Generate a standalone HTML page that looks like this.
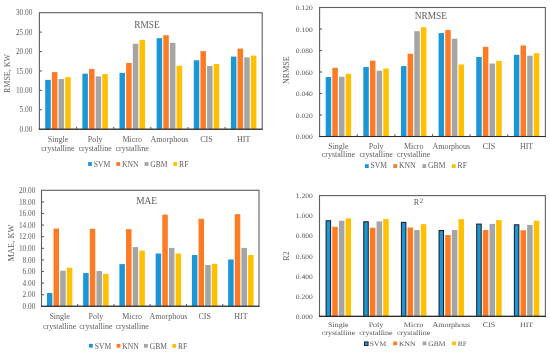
<!DOCTYPE html>
<html><head><meta charset="utf-8"><title>Model error metrics</title>
<style>
html,body{margin:0;padding:0;background:#fff;}
body{width:550px;height:354px;overflow:hidden;}
svg{display:block;}
svg text{font-family:'Liberation Serif', 'Times New Roman', serif;fill:#606060;}
svg text.gp{text-rendering:geometricPrecision;fill:#555;}
</style></head><body>
<svg width="550" height="354" viewBox="0 0 550 354">
<rect width="550" height="354" fill="#fff"/>
<g>
<rect x="45.24" y="79.88" width="5.5" height="49.32" fill="#1b96d6"/>
<rect x="51.89" y="72.11" width="5.5" height="57.08" fill="#fd7b23"/>
<rect x="58.54" y="79.1" width="5.5" height="50.09" fill="#a5a5a5"/>
<rect x="65.19" y="77.16" width="5.5" height="52.04" fill="#ffc000"/>
<rect x="82.38" y="73.67" width="5.5" height="55.53" fill="#1b96d6"/>
<rect x="89.03" y="69.01" width="5.5" height="60.19" fill="#fd7b23"/>
<rect x="95.67" y="76.39" width="5.5" height="52.81" fill="#a5a5a5"/>
<rect x="102.33" y="74.06" width="5.5" height="55.14" fill="#ffc000"/>
<rect x="119.51" y="72.89" width="5.5" height="56.31" fill="#1b96d6"/>
<rect x="126.16" y="62.99" width="5.5" height="66.21" fill="#fd7b23"/>
<rect x="132.81" y="43.77" width="5.5" height="85.43" fill="#a5a5a5"/>
<rect x="139.46" y="39.88" width="5.5" height="89.32" fill="#ffc000"/>
<rect x="156.64" y="38.14" width="5.5" height="91.06" fill="#1b96d6"/>
<rect x="163.29" y="35.22" width="5.5" height="93.98" fill="#fd7b23"/>
<rect x="169.94" y="42.8" width="5.5" height="86.4" fill="#a5a5a5"/>
<rect x="176.59" y="65.71" width="5.5" height="63.49" fill="#ffc000"/>
<rect x="193.78" y="60.27" width="5.5" height="68.93" fill="#1b96d6"/>
<rect x="200.43" y="51.14" width="5.5" height="78.05" fill="#fd7b23"/>
<rect x="207.08" y="65.9" width="5.5" height="63.3" fill="#a5a5a5"/>
<rect x="213.73" y="63.96" width="5.5" height="65.24" fill="#ffc000"/>
<rect x="230.91" y="56.58" width="5.5" height="72.62" fill="#1b96d6"/>
<rect x="237.56" y="48.62" width="5.5" height="80.58" fill="#fd7b23"/>
<rect x="244.21" y="57.36" width="5.5" height="71.84" fill="#a5a5a5"/>
<rect x="250.86" y="55.61" width="5.5" height="73.59" fill="#ffc000"/>
<rect x="39.4" y="12.7" width="222.8" height="116.5" fill="none" stroke="#5f5f5f" stroke-width="1.1"/>
<line x1="38.85" y1="129.2" x2="262.75" y2="129.2" stroke="#2b2b2b" stroke-width="1.1"/>
<line x1="39.4" y1="109.78" x2="41.9" y2="109.78" stroke="#5f5f5f" stroke-width="1.1"/>
<line x1="39.4" y1="90.37" x2="41.9" y2="90.37" stroke="#5f5f5f" stroke-width="1.1"/>
<line x1="39.4" y1="70.95" x2="41.9" y2="70.95" stroke="#5f5f5f" stroke-width="1.1"/>
<line x1="39.4" y1="51.53" x2="41.9" y2="51.53" stroke="#5f5f5f" stroke-width="1.1"/>
<line x1="39.4" y1="32.12" x2="41.9" y2="32.12" stroke="#5f5f5f" stroke-width="1.1"/>
<line x1="76.53" y1="129.2" x2="76.53" y2="126.9" stroke="#5f5f5f" stroke-width="1.1"/>
<line x1="113.67" y1="129.2" x2="113.67" y2="126.9" stroke="#5f5f5f" stroke-width="1.1"/>
<line x1="150.8" y1="129.2" x2="150.8" y2="126.9" stroke="#5f5f5f" stroke-width="1.1"/>
<line x1="187.93" y1="129.2" x2="187.93" y2="126.9" stroke="#5f5f5f" stroke-width="1.1"/>
<line x1="225.07" y1="129.2" x2="225.07" y2="126.9" stroke="#5f5f5f" stroke-width="1.1"/>
<text x="32.3" y="131.9" text-anchor="end" font-size="7.3">0.00</text>
<text x="32.3" y="112.48" text-anchor="end" font-size="7.3">5.00</text>
<text x="32.3" y="93.07" text-anchor="end" font-size="7.3">10.00</text>
<text x="32.3" y="73.65" text-anchor="end" font-size="7.3">15.00</text>
<text x="32.3" y="54.23" text-anchor="end" font-size="7.3">20.00</text>
<text x="32.3" y="34.82" text-anchor="end" font-size="7.3">25.00</text>
<text x="32.3" y="15.4" text-anchor="end" font-size="7.3">30.00</text>
<text transform="translate(9.5,73.5) rotate(-90)" text-anchor="middle" font-size="8">RMSE, KW</text>
<text x="147" y="27.5" text-anchor="middle" font-size="9.35">RMSE</text>
<text x="57.97" y="141.8" text-anchor="middle" font-size="8">Single</text>
<text x="57.97" y="150.7" text-anchor="middle" font-size="8">crystalline</text>
<text x="95.1" y="141.8" text-anchor="middle" font-size="8">Poly</text>
<text x="95.1" y="150.7" text-anchor="middle" font-size="8">crystalline</text>
<text x="132.23" y="141.8" text-anchor="middle" font-size="8">Micro</text>
<text x="132.23" y="150.7" text-anchor="middle" font-size="8">crystalline</text>
<text x="169.37" y="141.8" text-anchor="middle" font-size="8">Amorphous</text>
<text x="206.5" y="141.8" text-anchor="middle" font-size="8">CIS</text>
<text x="243.63" y="141.8" text-anchor="middle" font-size="8">HIT</text>
<rect x="88.1" y="162.1" width="3.8" height="3.8" fill="#1b96d6"/>
<text x="93.8" y="166.9" font-size="7.6">SVM</text>
<rect x="116.3" y="162.1" width="3.8" height="3.8" fill="#fd7b23"/>
<text x="122" y="166.9" font-size="7.6">KNN</text>
<rect x="144.6" y="162.1" width="3.8" height="3.8" fill="#a5a5a5"/>
<text x="150.3" y="166.9" font-size="7.6">GBM</text>
<rect x="173.4" y="162.1" width="3.8" height="3.8" fill="#ffc000"/>
<text x="179.1" y="166.9" font-size="7.6">RF</text>
</g>
<g>
<rect x="325.69" y="77.05" width="5.5" height="59.45" fill="#1b96d6"/>
<rect x="332.34" y="67.81" width="5.5" height="68.69" fill="#fd7b23"/>
<rect x="338.99" y="76.73" width="5.5" height="59.77" fill="#a5a5a5"/>
<rect x="345.64" y="73.83" width="5.5" height="62.67" fill="#ffc000"/>
<rect x="363.32" y="67.05" width="5.5" height="69.45" fill="#1b96d6"/>
<rect x="369.97" y="60.71" width="5.5" height="75.79" fill="#fd7b23"/>
<rect x="376.62" y="70.71" width="5.5" height="65.79" fill="#a5a5a5"/>
<rect x="383.27" y="68.45" width="5.5" height="68.05" fill="#ffc000"/>
<rect x="400.96" y="66.09" width="5.5" height="70.41" fill="#1b96d6"/>
<rect x="407.61" y="53.72" width="5.5" height="82.78" fill="#fd7b23"/>
<rect x="414.26" y="31.15" width="5.5" height="105.35" fill="#a5a5a5"/>
<rect x="420.91" y="27.17" width="5.5" height="109.33" fill="#ffc000"/>
<rect x="438.59" y="33.09" width="5.5" height="103.41" fill="#1b96d6"/>
<rect x="445.24" y="30.07" width="5.5" height="106.43" fill="#fd7b23"/>
<rect x="451.89" y="38.67" width="5.5" height="97.83" fill="#a5a5a5"/>
<rect x="458.54" y="64.47" width="5.5" height="72.03" fill="#ffc000"/>
<rect x="476.22" y="56.95" width="5.5" height="79.55" fill="#1b96d6"/>
<rect x="482.87" y="46.84" width="5.5" height="89.66" fill="#fd7b23"/>
<rect x="489.52" y="63.51" width="5.5" height="72.99" fill="#a5a5a5"/>
<rect x="496.17" y="60.93" width="5.5" height="75.57" fill="#ffc000"/>
<rect x="513.86" y="54.8" width="5.5" height="81.7" fill="#1b96d6"/>
<rect x="520.51" y="45.45" width="5.5" height="91.05" fill="#fd7b23"/>
<rect x="527.16" y="55.66" width="5.5" height="80.84" fill="#a5a5a5"/>
<rect x="533.81" y="53.19" width="5.5" height="83.31" fill="#ffc000"/>
<rect x="319.6" y="7.5" width="225.8" height="129" fill="none" stroke="#5f5f5f" stroke-width="1.1"/>
<line x1="319.05" y1="136.5" x2="545.95" y2="136.5" stroke="#2b2b2b" stroke-width="1.1"/>
<line x1="319.6" y1="115" x2="322.1" y2="115" stroke="#5f5f5f" stroke-width="1.1"/>
<line x1="319.6" y1="93.5" x2="322.1" y2="93.5" stroke="#5f5f5f" stroke-width="1.1"/>
<line x1="319.6" y1="72" x2="322.1" y2="72" stroke="#5f5f5f" stroke-width="1.1"/>
<line x1="319.6" y1="50.5" x2="322.1" y2="50.5" stroke="#5f5f5f" stroke-width="1.1"/>
<line x1="319.6" y1="29" x2="322.1" y2="29" stroke="#5f5f5f" stroke-width="1.1"/>
<line x1="357.23" y1="136.5" x2="357.23" y2="134.2" stroke="#5f5f5f" stroke-width="1.1"/>
<line x1="394.87" y1="136.5" x2="394.87" y2="134.2" stroke="#5f5f5f" stroke-width="1.1"/>
<line x1="432.5" y1="136.5" x2="432.5" y2="134.2" stroke="#5f5f5f" stroke-width="1.1"/>
<line x1="470.13" y1="136.5" x2="470.13" y2="134.2" stroke="#5f5f5f" stroke-width="1.1"/>
<line x1="507.77" y1="136.5" x2="507.77" y2="134.2" stroke="#5f5f5f" stroke-width="1.1"/>
<text transform="translate(312.8,139.1) scale(1,0.88)" text-anchor="end" font-size="7.6" class="gp">0.000</text>
<text transform="translate(312.8,117.6) scale(1,0.88)" text-anchor="end" font-size="7.6" class="gp">0.020</text>
<text transform="translate(312.8,96.1) scale(1,0.88)" text-anchor="end" font-size="7.6" class="gp">0.040</text>
<text transform="translate(312.8,74.6) scale(1,0.88)" text-anchor="end" font-size="7.6" class="gp">0.060</text>
<text transform="translate(312.8,53.1) scale(1,0.88)" text-anchor="end" font-size="7.6" class="gp">0.080</text>
<text transform="translate(312.8,31.6) scale(1,0.88)" text-anchor="end" font-size="7.6" class="gp">0.100</text>
<text transform="translate(312.8,10.1) scale(1,0.88)" text-anchor="end" font-size="7.6" class="gp">0.120</text>
<text transform="translate(289.2,70.2) rotate(-90)" text-anchor="middle" font-size="8">NRMSE</text>
<text x="430.9" y="19.1" text-anchor="middle" font-size="9.35">NRMSE</text>
<text x="338.42" y="148.8" text-anchor="middle" font-size="8">Single</text>
<text x="338.42" y="157.2" text-anchor="middle" font-size="8">crystalline</text>
<text x="376.05" y="148.8" text-anchor="middle" font-size="8">Poly</text>
<text x="376.05" y="157.2" text-anchor="middle" font-size="8">crystalline</text>
<text x="413.68" y="148.8" text-anchor="middle" font-size="8">Micro</text>
<text x="413.68" y="157.2" text-anchor="middle" font-size="8">crystalline</text>
<text x="451.32" y="148.8" text-anchor="middle" font-size="8">Amorphous</text>
<text x="488.95" y="148.8" text-anchor="middle" font-size="8">CIS</text>
<text x="526.58" y="148.8" text-anchor="middle" font-size="8">HIT</text>
<rect x="364.9" y="164.2" width="3.8" height="3.8" fill="#1b96d6"/>
<text x="370.6" y="168" font-size="7.6">SVM</text>
<rect x="393.3" y="164.2" width="3.8" height="3.8" fill="#fd7b23"/>
<text x="399" y="168" font-size="7.6">KNN</text>
<rect x="422.4" y="164.2" width="3.8" height="3.8" fill="#a5a5a5"/>
<text x="428.1" y="168" font-size="7.6">GBM</text>
<rect x="451.9" y="164.2" width="3.8" height="3.8" fill="#ffc000"/>
<text x="457.6" y="168" font-size="7.6">RF</text>
</g>
<g>
<rect x="46.9" y="292.96" width="5.5" height="13.34" fill="#1b96d6"/>
<rect x="53.55" y="228.58" width="5.5" height="77.72" fill="#fd7b23"/>
<rect x="60.2" y="270.69" width="5.5" height="35.61" fill="#a5a5a5"/>
<rect x="66.85" y="267.67" width="5.5" height="38.63" fill="#ffc000"/>
<rect x="83.15" y="273.07" width="5.5" height="33.23" fill="#1b96d6"/>
<rect x="89.8" y="228.81" width="5.5" height="77.49" fill="#fd7b23"/>
<rect x="96.45" y="270.98" width="5.5" height="35.32" fill="#a5a5a5"/>
<rect x="103.1" y="273.82" width="5.5" height="32.48" fill="#ffc000"/>
<rect x="119.4" y="264.13" width="5.5" height="42.17" fill="#1b96d6"/>
<rect x="126.05" y="229.16" width="5.5" height="77.14" fill="#fd7b23"/>
<rect x="132.7" y="247.14" width="5.5" height="59.16" fill="#a5a5a5"/>
<rect x="139.35" y="250.62" width="5.5" height="55.68" fill="#ffc000"/>
<rect x="155.65" y="253.52" width="5.5" height="52.78" fill="#1b96d6"/>
<rect x="162.3" y="214.66" width="5.5" height="91.64" fill="#fd7b23"/>
<rect x="168.95" y="247.89" width="5.5" height="58.41" fill="#a5a5a5"/>
<rect x="175.6" y="253.52" width="5.5" height="52.78" fill="#ffc000"/>
<rect x="191.9" y="255.03" width="5.5" height="51.27" fill="#1b96d6"/>
<rect x="198.55" y="218.78" width="5.5" height="87.52" fill="#fd7b23"/>
<rect x="205.2" y="264.95" width="5.5" height="41.35" fill="#a5a5a5"/>
<rect x="211.85" y="263.79" width="5.5" height="42.51" fill="#ffc000"/>
<rect x="228.15" y="259.44" width="5.5" height="46.86" fill="#1b96d6"/>
<rect x="234.8" y="214.2" width="5.5" height="92.1" fill="#fd7b23"/>
<rect x="241.45" y="247.89" width="5.5" height="58.41" fill="#a5a5a5"/>
<rect x="248.1" y="255.03" width="5.5" height="51.27" fill="#ffc000"/>
<rect x="41.5" y="190.3" width="217.5" height="116" fill="none" stroke="#5f5f5f" stroke-width="1.1"/>
<line x1="40.95" y1="306.3" x2="259.55" y2="306.3" stroke="#2b2b2b" stroke-width="1.1"/>
<line x1="41.5" y1="294.7" x2="44" y2="294.7" stroke="#5f5f5f" stroke-width="1.1"/>
<line x1="41.5" y1="283.1" x2="44" y2="283.1" stroke="#5f5f5f" stroke-width="1.1"/>
<line x1="41.5" y1="271.5" x2="44" y2="271.5" stroke="#5f5f5f" stroke-width="1.1"/>
<line x1="41.5" y1="259.9" x2="44" y2="259.9" stroke="#5f5f5f" stroke-width="1.1"/>
<line x1="41.5" y1="248.3" x2="44" y2="248.3" stroke="#5f5f5f" stroke-width="1.1"/>
<line x1="41.5" y1="236.7" x2="44" y2="236.7" stroke="#5f5f5f" stroke-width="1.1"/>
<line x1="41.5" y1="225.1" x2="44" y2="225.1" stroke="#5f5f5f" stroke-width="1.1"/>
<line x1="41.5" y1="213.5" x2="44" y2="213.5" stroke="#5f5f5f" stroke-width="1.1"/>
<line x1="41.5" y1="201.9" x2="44" y2="201.9" stroke="#5f5f5f" stroke-width="1.1"/>
<line x1="77.75" y1="306.3" x2="77.75" y2="304" stroke="#5f5f5f" stroke-width="1.1"/>
<line x1="114" y1="306.3" x2="114" y2="304" stroke="#5f5f5f" stroke-width="1.1"/>
<line x1="150.25" y1="306.3" x2="150.25" y2="304" stroke="#5f5f5f" stroke-width="1.1"/>
<line x1="186.5" y1="306.3" x2="186.5" y2="304" stroke="#5f5f5f" stroke-width="1.1"/>
<line x1="222.75" y1="306.3" x2="222.75" y2="304" stroke="#5f5f5f" stroke-width="1.1"/>
<text x="35.3" y="309" text-anchor="end" font-size="7.3">0.00</text>
<text x="35.3" y="297.4" text-anchor="end" font-size="7.3">2.00</text>
<text x="35.3" y="285.8" text-anchor="end" font-size="7.3">4.00</text>
<text x="35.3" y="274.2" text-anchor="end" font-size="7.3">6.00</text>
<text x="35.3" y="262.6" text-anchor="end" font-size="7.3">8.00</text>
<text x="35.3" y="251" text-anchor="end" font-size="7.3">10.00</text>
<text x="35.3" y="239.4" text-anchor="end" font-size="7.3">12.00</text>
<text x="35.3" y="227.8" text-anchor="end" font-size="7.3">14.00</text>
<text x="35.3" y="216.2" text-anchor="end" font-size="7.3">16.00</text>
<text x="35.3" y="204.6" text-anchor="end" font-size="7.3">18.00</text>
<text x="35.3" y="193" text-anchor="end" font-size="7.3">20.00</text>
<text transform="translate(13.9,243) rotate(-90)" text-anchor="middle" font-size="8.4">MAE, KW</text>
<text x="146.6" y="204.1" text-anchor="middle" font-size="9.35">MAE</text>
<text x="59.62" y="319.3" text-anchor="middle" font-size="8">Single</text>
<text x="59.62" y="328.5" text-anchor="middle" font-size="8">crystalline</text>
<text x="95.88" y="319.3" text-anchor="middle" font-size="8">Poly</text>
<text x="95.88" y="328.5" text-anchor="middle" font-size="8">crystalline</text>
<text x="132.12" y="319.3" text-anchor="middle" font-size="8">Micro</text>
<text x="132.12" y="328.5" text-anchor="middle" font-size="8">crystalline</text>
<text x="168.38" y="319.3" text-anchor="middle" font-size="8">Amorphous</text>
<text x="204.62" y="319.3" text-anchor="middle" font-size="8">CIS</text>
<text x="240.88" y="319.3" text-anchor="middle" font-size="8">HIT</text>
<rect x="89" y="343.9" width="3.8" height="3.8" fill="#1b96d6"/>
<text x="94.7" y="348.5" font-size="7.6">SVM</text>
<rect x="116.6" y="343.9" width="3.8" height="3.8" fill="#fd7b23"/>
<text x="122.3" y="348.5" font-size="7.6">KNN</text>
<rect x="144" y="343.9" width="3.8" height="3.8" fill="#a5a5a5"/>
<text x="149.7" y="348.5" font-size="7.6">GBM</text>
<rect x="172.3" y="343.9" width="3.8" height="3.8" fill="#ffc000"/>
<text x="178" y="348.5" font-size="7.6">RF</text>
</g>
<g>
<rect x="326.1" y="220.76" width="4.5" height="95.64" fill="#1b96d6" stroke="#1a1a1a" stroke-width="1"/>
<rect x="332.25" y="226.81" width="5.5" height="89.59" fill="#fd7b23"/>
<rect x="338.9" y="220.77" width="5.5" height="95.63" fill="#a5a5a5"/>
<rect x="345.55" y="218.45" width="5.5" height="97.95" fill="#ffc000"/>
<rect x="363.75" y="221.77" width="4.5" height="94.63" fill="#1b96d6" stroke="#1a1a1a" stroke-width="1"/>
<rect x="369.9" y="227.71" width="5.5" height="88.69" fill="#fd7b23"/>
<rect x="376.55" y="221.37" width="5.5" height="95.03" fill="#a5a5a5"/>
<rect x="383.2" y="219.06" width="5.5" height="97.34" fill="#ffc000"/>
<rect x="401.4" y="222.37" width="4.5" height="94.03" fill="#1b96d6" stroke="#1a1a1a" stroke-width="1"/>
<rect x="407.55" y="227.51" width="5.5" height="88.89" fill="#fd7b23"/>
<rect x="414.2" y="230.03" width="5.5" height="86.37" fill="#a5a5a5"/>
<rect x="420.85" y="224.19" width="5.5" height="92.21" fill="#ffc000"/>
<rect x="439.05" y="230.53" width="4.5" height="85.87" fill="#1b96d6" stroke="#1a1a1a" stroke-width="1"/>
<rect x="445.2" y="235.06" width="5.5" height="81.34" fill="#fd7b23"/>
<rect x="451.85" y="230.03" width="5.5" height="86.37" fill="#a5a5a5"/>
<rect x="458.5" y="219.16" width="5.5" height="97.24" fill="#ffc000"/>
<rect x="476.7" y="224.09" width="4.5" height="92.31" fill="#1b96d6" stroke="#1a1a1a" stroke-width="1"/>
<rect x="482.85" y="230.03" width="5.5" height="86.37" fill="#fd7b23"/>
<rect x="489.5" y="223.89" width="5.5" height="92.51" fill="#a5a5a5"/>
<rect x="496.15" y="219.96" width="5.5" height="96.44" fill="#ffc000"/>
<rect x="514.35" y="224.79" width="4.5" height="91.61" fill="#1b96d6" stroke="#1a1a1a" stroke-width="1"/>
<rect x="520.5" y="230.23" width="5.5" height="86.17" fill="#fd7b23"/>
<rect x="527.15" y="224.89" width="5.5" height="91.51" fill="#a5a5a5"/>
<rect x="533.8" y="220.67" width="5.5" height="95.73" fill="#ffc000"/>
<rect x="319.5" y="195.6" width="225.9" height="120.8" fill="none" stroke="#5f5f5f" stroke-width="1.1"/>
<line x1="318.95" y1="316.4" x2="545.95" y2="316.4" stroke="#2b2b2b" stroke-width="1.1"/>
<text transform="translate(312.8,318.9) scale(1,0.88)" text-anchor="end" font-size="7.6" class="gp">0.000</text>
<text transform="translate(312.8,298.77) scale(1,0.88)" text-anchor="end" font-size="7.6" class="gp">0.200</text>
<text transform="translate(312.8,278.63) scale(1,0.88)" text-anchor="end" font-size="7.6" class="gp">0.400</text>
<text transform="translate(312.8,258.5) scale(1,0.88)" text-anchor="end" font-size="7.6" class="gp">0.600</text>
<text transform="translate(312.8,238.37) scale(1,0.88)" text-anchor="end" font-size="7.6" class="gp">0.800</text>
<text transform="translate(312.8,218.23) scale(1,0.88)" text-anchor="end" font-size="7.6" class="gp">1.000</text>
<text transform="translate(312.8,198.1) scale(1,0.88)" text-anchor="end" font-size="7.6" class="gp">1.200</text>
<text transform="translate(289.2,256) rotate(-90)" text-anchor="middle" font-size="8">R2</text>
<text x="413.8" y="204.8" font-size="8.2">R</text>
<text class="gp" x="419.8" y="202.6" font-size="6.9">2</text>
<text transform="translate(338.32,326.8) scale(1,0.88)" text-anchor="middle" font-size="8" class="gp">Single</text>
<text transform="translate(338.32,334.7) scale(1,0.88)" text-anchor="middle" font-size="8" class="gp">crystalline</text>
<text transform="translate(375.98,326.8) scale(1,0.88)" text-anchor="middle" font-size="8" class="gp">Poly</text>
<text transform="translate(375.98,334.7) scale(1,0.88)" text-anchor="middle" font-size="8" class="gp">crystalline</text>
<text transform="translate(413.62,326.8) scale(1,0.88)" text-anchor="middle" font-size="8" class="gp">Micro</text>
<text transform="translate(413.62,334.7) scale(1,0.88)" text-anchor="middle" font-size="8" class="gp">crystalline</text>
<text transform="translate(451.27,326.8) scale(1,0.88)" text-anchor="middle" font-size="8" class="gp">Amorphous</text>
<text transform="translate(488.92,326.8) scale(1,0.88)" text-anchor="middle" font-size="8" class="gp">CIS</text>
<text transform="translate(526.58,326.8) scale(1,0.88)" text-anchor="middle" font-size="8" class="gp">HIT</text>
<rect x="364.5" y="341.9" width="3.6" height="3.6" fill="#1b96d6" stroke="#1a1a1a" stroke-width="0.9"/>
<text transform="translate(369.8,345.8) scale(1,0.92)" font-size="7.6" class="gp">SVM</text>
<rect x="393.3" y="341.5" width="3.8" height="3.8" fill="#fd7b23"/>
<text transform="translate(399,345.8) scale(1,0.92)" font-size="7.6" class="gp">KNN</text>
<rect x="422.6" y="341.5" width="3.8" height="3.8" fill="#a5a5a5"/>
<text transform="translate(428.3,345.8) scale(1,0.92)" font-size="7.6" class="gp">GBM</text>
<rect x="452.1" y="341.5" width="3.8" height="3.8" fill="#ffc000"/>
<text transform="translate(457.8,345.8) scale(1,0.92)" font-size="7.6" class="gp">RF</text>
</g>
</svg>
</body></html>
